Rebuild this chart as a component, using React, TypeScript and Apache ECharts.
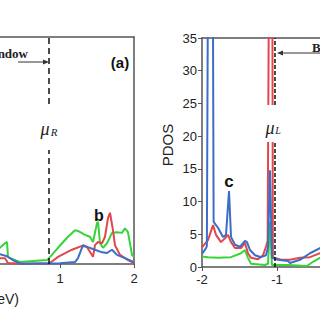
import React, { useEffect, useRef } from "react";
import * as echarts from "echarts";

// Left panel (a) — energy (eV) vs PDOS
const leftGreen: [number, number][] = [
  [0.1, 2.3], [0.189, 2.5], [0.257, 3.2], [0.284, 3.4], [0.297, 1.1], [0.324, 0.9],
  [0.459, 0.3], [0.824, 0.6], [0.851, 0.9], [0.973, 2.5], [1.108, 4.2], [1.203, 5.2],
  [1.243, 5.1], [1.338, 4.5], [1.405, 4.2], [1.446, 3.4], [1.5, 6.3], [1.514, 6.5],
  [1.541, 3.2], [1.581, 2.5], [1.635, 3.2], [1.703, 4.8], [1.77, 4.9], [1.838, 4.8],
  [1.878, 5.5], [1.919, 4.9], [1.973, 1.4], [2.0, 1.1],
];
const leftRed: [number, number][] = [
  [0.1, 1.0], [0.189, 0.9], [0.257, 0.9], [0.297, 0.15], [0.5, 0.05], [0.851, 0.1],
  [0.905, 0.5], [0.973, 1.1], [1.162, 2.2], [1.297, 2.8], [1.365, 2.6], [1.432, 1.4],
  [1.446, 1.1], [1.473, 2.9], [1.514, 3.4], [1.568, 3.2], [1.608, 4.2], [1.649, 7.1],
  [1.676, 7.9], [1.716, 5.2], [1.743, 2.9], [1.811, 1.4], [1.919, 0.6], [2.0, 0.15],
];
const leftBlue: [number, number][] = [
  [0.1, 1.7], [0.189, 1.5], [0.284, 1.2], [0.365, 0.6], [0.459, 0.05], [1.0, 0.1],
  [1.203, 0.3], [1.243, 0.9], [1.311, 2.9], [1.378, 2.6], [1.473, 2.2], [1.568, 1.8],
  [1.635, 1.7], [1.703, 2.2], [1.77, 1.4], [1.878, 0.9], [2.0, 0.3],
];

// Right panel
const rightBlue: [number, number][] = [
  [-2, 2.0], [-1.95, 2.8], [-1.935, 3.2], [-1.915, 60], [-1.86, 60], [-1.845, 6.9],
  [-1.813, 6.4], [-1.787, 6.0], [-1.72, 4.6], [-1.68, 4.9], [-1.64, 11.6], [-1.613, 4.6],
  [-1.56, 3.4], [-1.493, 3.1], [-1.427, 4.0], [-1.4, 3.8], [-1.36, 2.6], [-1.293, 1.8],
  [-1.213, 1.5], [-1.147, 1.8], [-1.12, 3.0], [-1.093, 14.8], [-1.067, 1.4], [-0.987, 1.1],
  [-0.853, 0.9], [-0.827, 0.6], [-0.693, 1.1], [-0.56, 2.1], [-0.427, 2.9], [-0.3, 3.6],
];
const rightRed: [number, number][] = [
  [-2, 3.0], [-1.92, 4.1], [-1.853, 6.4], [-1.813, 4.9], [-1.747, 3.8], [-1.693, 4.4],
  [-1.653, 4.9], [-1.613, 3.8], [-1.56, 2.9], [-1.48, 2.9], [-1.427, 3.7], [-1.387, 2.1],
  [-1.347, 1.4], [-1.253, 1.2], [-1.187, 1.8], [-1.147, 3.1], [-1.125, 4.0], [-1.1, 60],
  [-1.065, 60], [-1.055, 1.5], [-1.027, 1.4], [-0.947, 1.1], [-0.827, 1.1], [-0.693, 1.4],
  [-0.56, 1.5], [-0.427, 2.1], [-0.3, 2.6],
];
const rightGreen: [number, number][] = [
  [-2, 1.6], [-1.92, 1.5], [-1.787, 1.4], [-1.613, 1.5], [-1.48, 2.1], [-1.427, 2.6],
  [-1.387, 1.4], [-1.347, 0.5], [-1.16, 0.3], [-1.12, 0.5], [-1.093, 6.9], [-1.067, 0.3],
  [-0.853, 0.3], [-0.6, 0.15], [-0.52, 0.8], [-0.427, 1.4], [-0.3, 2.0],
];

const leftXTicks = [1, 2];
const rightXTicks = [-2, -1];
const muR = 0.85;
const muL = -1.027;

const GREEN = "#36d436";
const RED = "#e2474b";
const BLUE = "#3c6ec8";
const AXIS = "#555";
const SANS = "Liberation Sans, Arial, sans-serif";
const SERIF = "Liberation Serif, Times New Roman, serif";

export default function App() {
  const ref = useRef<HTMLDivElement>(null);
  useEffect(() => {
    document.body.style.margin = "0";
    const chart = echarts.init(ref.current!, null, { renderer: "svg" });
    const lx = { min: 2 - 134 / 74, max: 2 };
    const rx = { min: -2, max: -2 + 118 / 75 };
    const lineSeries = (data: [number, number][], color: string, idx: number, extra: any = {}) => ({
      type: "line",
      data,
      xAxisIndex: idx === 0 ? 0 : 2,
      yAxisIndex: idx,
      showSymbol: false,
      symbol: "none",
      clip: true,
      lineStyle: { color, width: 2 },
      itemStyle: { color },
      silent: true,
      ...extra,
    });
    const dashed = (x: number, dash: number[]) => ({
      silent: true,
      symbol: ["none", "none"],
      label: { show: false },
      lineStyle: { color: "#111", type: dash, width: 1.5 },
      data: [{ xAxis: x }],
    });
    const option: any = {
      animation: false,
      grid: [
        { left: 0, top: 37, width: 134, height: 227 },
        { left: 202, top: 38, width: 118, height: 229 },
      ],
      xAxis: [
        {
          type: "value", gridIndex: 0, ...lx, position: "bottom",
          axisLine: { show: true, lineStyle: { color: AXIS, width: 1.5 } },
          axisTick: { show: true, customValues: leftXTicks, length: 4, lineStyle: { color: AXIS } },
          axisLabel: { customValues: leftXTicks, margin: 8, fontSize: 13, fontFamily: SANS, color: "#222" },
          splitLine: { show: false },
        },
        {
          type: "value", gridIndex: 0, ...lx, position: "top",
          axisLine: { show: true, lineStyle: { color: AXIS, width: 1.5 } },
          axisTick: { show: false }, axisLabel: { show: false }, splitLine: { show: false },
        },
        {
          type: "value", gridIndex: 1, ...rx, position: "bottom",
          axisLine: { show: true, onZero: false, lineStyle: { color: AXIS, width: 1.5 } },
          axisTick: { show: true, customValues: rightXTicks, length: 4, lineStyle: { color: AXIS } },
          axisLabel: { customValues: rightXTicks, margin: 6, fontSize: 13, fontFamily: SANS, color: "#222" },
          splitLine: { show: false },
        },
        {
          type: "value", gridIndex: 1, ...rx, position: "top",
          axisLine: { show: true, onZero: false, lineStyle: { color: AXIS, width: 1.5 } },
          axisTick: { show: false }, axisLabel: { show: false }, splitLine: { show: false },
        },
      ],
      yAxis: [
        {
          type: "value", gridIndex: 0, min: 0, max: 35, position: "right",
          axisLine: { show: true, onZero: false, lineStyle: { color: AXIS, width: 1.5 } },
          axisTick: { show: false }, axisLabel: { show: false }, splitLine: { show: false },
        },
        {
          type: "value", gridIndex: 1, min: 0, max: 35, interval: 5, position: "left",
          axisLine: { show: true, onZero: false, lineStyle: { color: AXIS, width: 1.5 } },
          axisTick: { show: true, length: 4, lineStyle: { color: AXIS } },
          axisLabel: { margin: 5, fontSize: 13, fontFamily: SANS, color: "#222" },
          splitLine: { show: false },
        },
      ],
      series: [
        lineSeries(leftGreen, GREEN, 0, { markLine: dashed(muR, [6, 4]) }),
        lineSeries(leftRed, RED, 0),
        lineSeries(leftBlue, BLUE, 0),
        lineSeries(rightGreen, GREEN, 1, { markLine: dashed(muL, [4, 2]) }),
        lineSeries(rightRed, RED, 1),
        lineSeries(rightBlue, BLUE, 1),
      ],
      graphic: [
        { type: "rect", z: 100, shape: { x: 38, y: 108, width: 22, height: 42 }, style: { fill: "#fff" } },
        { type: "rect", z: 100, shape: { x: 264, y: 105, width: 19, height: 37 }, style: { fill: "#fff" } },
        { type: "text", z: 101, x: 45, y: 129, style: { text: "μ", font: `italic 18px ${SERIF}`, fill: "#222", align: "center", verticalAlign: "middle" } },
        { type: "text", z: 101, x: 54, y: 132, style: { text: "R", font: `italic 11px ${SERIF}`, fill: "#222", align: "center", verticalAlign: "middle" } },
        { type: "text", z: 101, x: 270, y: 128, style: { text: "μ", font: `italic 18px ${SERIF}`, fill: "#222", align: "center", verticalAlign: "middle" } },
        { type: "text", z: 101, x: 278, y: 130, style: { text: "L", font: `italic 10px ${SERIF}`, fill: "#222", align: "center", verticalAlign: "middle" } },
        { type: "text", z: 101, x: 28, y: 53, style: { text: "Bias window", font: `bold 13px ${SERIF}`, fill: "#222", align: "right", verticalAlign: "middle" } },
        { type: "line", z: 101, shape: { x1: 18, y1: 62, x2: 45, y2: 62 }, style: { stroke: "#333", lineWidth: 1 } },
        { type: "polygon", z: 101, shape: { points: [[49, 62], [43, 59.5], [43, 64.5]] }, style: { fill: "#333" } },
        { type: "text", z: 101, x: 312, y: 47, style: { text: "Bias window", font: `bold 13px ${SERIF}`, fill: "#222", align: "left", verticalAlign: "middle" } },
        { type: "line", z: 101, shape: { x1: 320, y1: 53, x2: 281, y2: 53 }, style: { stroke: "#333", lineWidth: 1 } },
        { type: "polygon", z: 101, shape: { points: [[277, 53], [283, 50.5], [283, 55.5]] }, style: { fill: "#333" } },
        { type: "text", z: 101, x: 120, y: 62, style: { text: "(a)", font: `bold 15px ${SANS}`, fill: "#111", align: "center", verticalAlign: "middle" } },
        { type: "text", z: 101, x: 99, y: 215, style: { text: "b", font: `bold 16px ${SANS}`, fill: "#111", align: "center", verticalAlign: "middle" } },
        { type: "text", z: 101, x: 229, y: 181, style: { text: "c", font: `bold 17px ${SANS}`, fill: "#111", align: "center", verticalAlign: "middle" } },
        { type: "text", z: 101, x: 167, y: 145, rotation: Math.PI / 2, style: { text: "PDOS", font: `15px ${SANS}`, fill: "#222", align: "center", verticalAlign: "middle" } },
        { type: "text", z: 101, x: 19, y: 299, style: { text: "E (eV)", font: `14px ${SANS}`, fill: "#222", align: "right", verticalAlign: "middle" } },
      ],
    };
    chart.setOption(option);
    return () => chart.dispose();
  }, []);
  return <div ref={ref} style={{ width: 320, height: 320 }} />;
}
